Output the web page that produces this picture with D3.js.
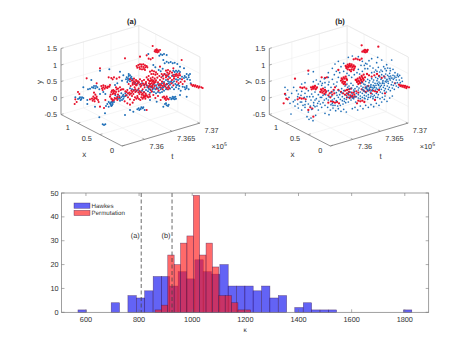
<!DOCTYPE html>
<html lang="en">
<head>
<meta charset="UTF-8">
<title>Hawkes vs permutation</title>
<script src="https://unpkg.com/d3@7.8.0/dist/d3.min.js"></script>
<style>
  body { margin: 0; background: #fff; }
  svg { opacity: 0.999; }
  text { font-family: "Liberation Sans", Arial, sans-serif; fill: #333; text-rendering: geometricPrecision; }
</style>
</head>
<body>
<script>
// histogram values
const hawkesEdges = [570, 695, 727, 758, 790, 821, 853, 884, 915, 947, 978, 1010, 1041, 1072, 1104, 1135, 1167, 1198, 1229, 1261, 1292, 1324, 1386, 1418, 1449, 1481, 1512, 1795];
const hawkesCounts = [1, 4, 0, 7, 6, 9, 15, 15, 11, 17, 14, 22, 17, 16, 20, 11, 11, 11, 9, 11, 6, 7, 2, 4, 1, 1, 1, 1];
const permEdges = [860, 884, 908, 932, 956, 980, 1004, 1028, 1052, 1076, 1100, 1124, 1148, 1172, 1196];
const permCounts = [1, 3, 24, 20, 29, 32, 49, 24, 29, 19, 7, 7, 4, 1, 1];
const hawkesWidth = 31.4;
const permWidth = 24;
const kappaMarks = [{ name: '(a)', value: 808 }, { name: '(b)', value: 924 }];
const kappaTicks = [600, 800, 1000, 1200, 1400, 1600, 1800];
const countTicks = [0, 10, 20, 30, 40, 50];

const tTicks = [7.36, 7.365, 7.37];
const xTicks = [0, 0.5, 1];
const yTicks = [-0.5, 0, 0.5, 1, 1.5];

// the 3D clouds: depth can't be recovered from a flat picture, so these are
// positions read in the view plane [h, v], 0-630 across and 0-495 down the panel
const redA = [[376,150],[380,152],[384,151],[378,156],[382,157],[386,155],[374,154],[380,148],[368,138],[390,150],[320,198],[325,195],[330,193],[335,194],[340,193],[345,196],[350,198],[322,203],[328,202],[334,200],[340,201],[346,202],[330,207],[336,208],[342,207],[352,202],[345,210],[350,166],[356,176],[362,178],[368,174],[390,200],[360,215],[366,212],[372,214],[378,217],[364,222],[370,222],[376,224],[382,222],[408,212],[414,210],[420,214],[412,218],[418,220],[426,218],[484,254],[490,255],[496,256],[502,258],[508,260],[514,262],[488,258],[494,259],[500,261],[506,263],[518,264],
[300,238],[306,242],[312,236],[318,240],[324,244],[330,238],[336,243],[342,240],[348,246],[354,238],[360,243],[366,240],[372,246],[378,241],[384,247],[390,240],[396,245],[402,250],[350,232],[356,228],[362,235],[368,232],[374,236],[382,233],[388,228],[394,232],[400,236],[408,232],[414,238],[420,234],[426,240],[432,236],[438,228],[444,232],[450,226],[456,238],[440,245],[446,250],[452,246],[458,252],[464,244],[410,252],[416,258],[424,250],[430,256],
[296,252],[302,258],[308,254],[314,262],[320,256],[326,266],[332,260],[338,268],[344,262],[350,256],[356,262],[362,270],[368,264],[374,258],[380,266],[386,272],[392,262],[398,268],[280,268],[286,274],[292,270],[298,278],[304,272],[310,282],[316,276],[322,288],[328,282],[334,292],[340,286],[346,296],[352,290],[358,284],[288,286],[294,292],[300,298],[306,288],[312,300],[284,304],[292,310],[300,314],[308,308],[398,292],[404,296],[410,290],[416,298],[392,300],[384,288],[370,285],[376,294],
[236,232],[244,234],[252,232],[260,236],[248,238],[268,232],[214,258],[220,262],[226,258],[232,264],[238,260],[216,265],[258,262],[264,266],[270,262],[276,268],[250,270],[244,276],[252,280],[258,276],[264,284],[240,290],[246,298],[254,294],[262,300],[268,292],[186,296],[192,298],[198,295],[204,300],[180,298],[196,284],[200,290],[192,278],[206,306],[144,276],[148,282],[136,298],[140,306],[134,312],[226,300],[210,320],[222,324],[350,330],[285,175],[210,205],[170,235],[200,250],[330,170],[430,205],[455,180],[365,275],[240,255],
[355,240],[359,244],[363,241],[367,245],[371,242],[357,250],[361,252],[365,250],[369,253],[373,249],[377,246],[358,258],[363,260],[368,258],[312,244],[316,247],[320,243],[308,249],[313,252],[318,255],[323,251],[327,247],[331,252],[335,256],[339,251],[343,254],[347,250],[290,276],[294,280],[299,284],[303,281],[307,276],[311,272],[316,268],[320,272],[325,277],[329,273],[333,277],[338,281],[342,277],[347,281],[315,292],[319,296],[323,293],[327,297],[331,300],[338,296],[343,290],[346,286],[428,226],[432,230],[436,224],[440,222],[444,226],[448,221],[395,222],[399,226],[403,222],[407,226],[411,228],[415,224],[386,256],[390,252],[394,255],[398,258],[402,255],[406,260],[410,264],[414,268],[418,264],[246,272],[250,276],[254,273],[248,282],[242,284],[256,282],[260,268],[266,274],[272,270],[220,256],[224,266],[228,262],[234,260],[218,270],[190,290],[194,294],[200,296],[188,302],[194,304],[244,296],[248,302],[252,300],[258,296],[262,292],[402,290],[406,294],[412,296],[408,300],[335,284],[340,292],[345,290],[350,286],[355,292],[360,290]];
const blueA = [[392,163],[397,165],[402,162],[388,167],[410,185],[416,188],[422,186],[428,190],[434,188],[404,190],[442,192],[450,200],[470,222],[476,226],[464,228],[480,240],[458,260],[464,262],[470,258],[476,268],[482,250],[452,272],[446,266],
[288,238],[294,240],[300,244],[306,236],[292,246],[312,248],[318,252],[324,248],[330,254],[336,250],[342,256],[348,252],[354,258],[360,254],[366,258],[372,252],[378,256],[384,252],[390,256],[396,250],[402,246],[408,240],[414,244],[420,246],[426,228],[432,224],[438,238],[444,240],[450,236],[456,230],[462,234],[398,228],[404,222],[410,226],[416,230],[386,210],[392,214],[398,206],[376,202],[370,195],[300,265],[306,268],[312,270],[318,274],[324,270],[330,276],[336,272],[342,276],[348,270],[354,274],[360,278],[366,274],[372,276],[378,280],[384,276],[390,278],[396,276],[402,272],[408,268],[414,262],[420,266],[426,262],[432,268],[438,262],
[274,280],[280,284],[286,280],[268,288],[262,290],[256,286],[274,292],[280,296],[270,302],[420,293],[426,295],[432,292],[438,296],[424,298],[405,312],[410,316],[416,314],[400,320],[326,325],[332,327],[338,325],[322,328],[344,330],[236,306],[242,310],[248,312],[232,312],[252,306],[228,318],[236,320],[244,318],[190,263],[196,265],[202,262],[180,266],[174,268],[208,268],[148,295],[154,297],[160,294],[144,297],[238,208],[210,212],[184,240],[160,262],[136,292],[172,300],[210,282],[220,276],[226,282],[255,255],[262,250],[276,242],[280,226],[296,222],[270,215],[300,330],[310,335],[285,345],[218,373],[222,375],[226,373],[208,352],[225,340],[195,320],[172,312],[380,305],[360,300],[450,285],[470,290],[400,180],[355,162],[410,165],[462,205],[480,222],
[290,232],[294,235],[298,238],[302,234],[296,228],[300,226],[304,230],[308,240],[352,262],[356,266],[360,268],[364,262],[368,268],[372,264],[376,268],[380,262],[384,266],[388,262],[392,268],[396,264],[400,262],[404,258],[408,254],[412,252],[416,250],[420,254],[424,244],[428,248],[432,244],[436,252],[440,256],[444,254],[448,258],[430,212],[434,216],[438,212],[442,216],[446,212],[450,216],[240,310],[244,306],[248,306],[242,314],[246,316],[328,330],[334,322],[340,322],[430,296],[434,298],[428,290],[436,290],[414,318],[408,310],[150,292],[156,292],[152,300],[278,288],[282,290],[286,288],[290,286],[270,296],[276,300],[264,296],[198,258],[192,258],[186,262],[476,232],[472,238],[468,232],[466,268],[470,264]];
const redB = [[356,152],[360,150],[364,152],[358,156],[362,157],[366,155],[352,155],[368,150],[350,136],[400,140],[302,198],[308,194],[314,192],[320,193],[326,196],[330,200],[304,204],[310,202],[316,200],[322,202],[328,205],[308,208],[314,210],[320,208],[326,210],[318,214],[326,178],[332,176],[338,178],[344,180],[350,176],[290,235],[296,232],[302,230],[288,242],[294,244],[300,246],[306,240],[296,252],[302,254],[332,240],[338,236],[344,232],[350,228],[356,224],[336,246],[342,244],[348,240],[354,236],[360,232],[340,252],[346,250],[352,246],[366,222],[372,226],[380,230],[388,226],[396,222],[402,228],[410,234],[418,230],[462,254],[468,256],[474,257],[480,258],[486,260],[492,262],[466,258],[472,260],[478,262],[484,264],[450,250],
[198,262],[204,260],[210,258],[216,262],[200,268],[206,266],[212,268],[166,262],[172,264],[178,262],[184,266],[228,268],[234,266],[240,270],[226,276],[232,278],[238,282],[244,274],[250,286],[256,292],[262,284],[268,280],[258,304],[264,306],[270,308],[276,306],[282,310],[250,308],[310,284],[316,286],[322,288],[328,284],[306,292],[314,294],[300,272],[306,270],[312,268],[318,266],[384,272],[390,274],[396,276],[402,270],[378,280],[340,302],[346,304],[352,302],[358,306],[336,310],[164,294],[170,296],[176,295],[182,298],[158,298],[120,282],[124,296],[128,298],[116,310],[196,322],[202,326],[190,330],[150,236],[190,212],[230,232],[240,234],[246,232],[280,210],[390,300],[420,280],[205,350],[270,262],[280,270],[350,268],[362,262],[370,258],
[312,198],[318,197],[324,199],[306,200],[334,240],[340,242],[346,236],[352,232],[344,248],[350,244],[356,240],[292,238],[298,236],[304,236],[292,248],[298,250],[204,264],[208,262],[214,265],[230,272],[236,274],[242,278],[288,276],[294,280],[300,284],[306,280],[312,276],[320,278],[326,278],[334,274],[340,278],[356,272],[362,276],[368,272],[374,270],[266,270],[260,276],[254,280],[318,290],[324,292],[330,290]];
const blueB = [[120,262],[128,270],[122,285],[132,292],[140,280],[150,300],[158,312],[166,306],[174,316],[182,304],[190,312],[198,300],[206,308],[214,296],[222,304],[230,292],[238,300],[150,318],[160,324],[170,330],[180,322],[190,336],[200,328],[210,320],[220,330],[230,322],[240,316],[138,342],[186,350],[192,358],[198,354],[204,362],[212,346],[248,322],[256,330],[264,324],[272,332],[280,326],[288,334],[296,328],[304,336],[240,340],[252,344],[322,326],[330,322],[338,330],[346,318],[354,326],[362,316],[370,322],[378,314],[386,320],[394,310],[402,316],[410,306],[418,298],[426,304],[434,294],[442,288],
[160,282],[170,274],[180,280],[190,272],[200,282],[210,276],[220,284],[230,256],[240,262],[250,254],[258,262],[266,252],[274,258],[214,240],[226,244],[238,236],[250,232],[190,222],[205,215],[262,205],[270,192],[280,184],[288,200],[296,190],[250,218],[268,224],[280,232],[276,246],[310,172],[322,168],[340,170],[352,184],[362,190],[372,182],[380,176],[395,188],[410,180],[425,194],[435,205],[440,180],[450,218],[458,222],[464,226],[470,234],[398,172],[375,198],[368,206],[384,204],[392,210],[400,202],[408,210],[416,200],[424,212],
[262,300],[268,296],[274,302],[280,292],[286,298],[292,290],[298,296],[304,286],[310,280],[316,276],[322,282],[328,274],[334,280],[340,270],[346,276],[352,268],[358,274],[364,266],[370,272],[376,262],[382,268],[388,258],[394,264],[400,254],[406,260],[412,250],[418,256],[424,246],[430,250],[436,240],[442,246],[448,234],[454,240],[460,230],[330,266],[336,260],[342,264],[348,258],[354,262],[360,254],[366,258],[372,248],[378,254],[384,246],[390,250],[396,242],[402,246],[408,238],[414,242],[420,234],[426,238],[432,230],[438,234],[444,226],[350,248],[356,252],[362,244],[368,238],[374,242],[380,236],[386,240],[392,232],[398,236],[404,230],[410,224],[416,228],[422,222],[428,226],[434,220],[340,284],[346,288],[352,280],[358,286],[364,278],[370,284],[376,276],[382,282],[388,286],[394,280],[400,284],[406,276],[412,280],[418,272],[424,276],[430,268],[436,272],[442,264],[448,268],[454,258],[460,262],[466,248],[472,244],[300,258],[306,252],[312,258],[318,250],[324,256],[312,226],[320,232],[328,224],[336,218],[344,222],[352,214],[360,206],
[250,272],[258,278],[266,272],[274,278],[282,272],[290,266],[244,296],[252,290],[260,288],[270,316],[278,318],[286,316],[294,312],[302,308],[310,306],[318,300],[326,296],[332,306],[360,296],[368,298],[376,292],[384,296],[405,296],[412,292],[420,288],[180,248],[170,252],[205,245],[146,262],[155,272],[135,310],[145,305],
[365,262],[369,258],[373,264],[377,258],[381,262],[385,256],[389,262],[393,256],[397,250],[401,256],[405,250],[409,256],[413,246],[417,250],[421,244],[425,240],[429,244],[433,236],[437,228],[441,234],[445,238],[449,228],[453,232],[457,226],[355,270],[361,264],[367,268],[373,268],[379,272],[385,264],[391,270],[397,268],[403,264],[409,268],[415,262],[421,266],[427,258],[433,262],[439,254],[445,256],[451,250],[457,248],[463,240],[292,302],[298,304],[304,298],[310,292],[316,290],[322,294],[328,290],[334,290],[340,294],[346,296],[352,292],[358,294],[364,288],[370,292],[378,288],[384,290],[392,292],[398,292],[326,270],[320,264],[314,266],[308,262],[226,292],[234,286],[242,284],[210,300],[218,310],[226,312],[234,308],[158,290],[168,286],[178,292],[186,290],[194,290],[204,290],[170,306],[180,314],[196,318],[206,316],[216,318],[258,314],[264,316],[250,300],[262,310],[276,286],[284,284],[290,278],[296,272],[380,218],[388,216],[396,214],[404,216],[412,214],[420,206],[428,204],[436,212],[444,208],[340,208],[348,196],[358,196],[366,192],[274,214],[284,218],[296,214],[306,220],[252,246],[262,238],[240,248],[232,250],[220,252]];

const panels = [
  { title: '(a)', dx: 0, hOffset: 30, red: redA, blue: blueA, blueOnTop: false },
  { title: '(b)', dx: 208.3, hOffset: 245 - 208.3, red: redB, blue: blueB, blueOnTop: true }
];

const svg = d3.select('body').append('svg').attr('width', 474).attr('height', 351);

// 3D box, oblique view: front corner, one step along t, x and y
const tScale = d3.scaleLinear().domain([7.3559, 7.3701]).range([0, 1]);
const xScale3 = d3.scaleLinear().domain([0, 1.38]).range([0, 1]);
const yScale3 = d3.scaleLinear().domain([-0.5, 1.5]).range([0, 1]);
const front = [122, 146], tStep = [78, -23], xStep = [-61, -31.5], yStep = [0, -66];

function project(t, x, y) {
  const a = tScale(t), b = xScale3(x), c = yScale3(y);
  return [
    front[0] + a * tStep[0] + b * xStep[0] + c * yStep[0],
    front[1] + a * tStep[1] + b * xStep[1] + c * yStep[1]
  ];
}

panels.forEach(drawPanel);
drawHistogram();

function drawPanel(p) {
  const g = svg.append('g').attr('transform', `translate(${p.dx},0)`);
  const [t0, t1] = tScale.domain();
  const [x0, x1] = xScale3.domain();
  const [y0, y1] = yScale3.domain();
  const seg = (a, b, stroke, w) => g.append('line')
    .attr('x1', a[0]).attr('y1', a[1]).attr('x2', b[0]).attr('y2', b[1])
    .attr('stroke', stroke).attr('stroke-width', w);
  const gridCol = '#efefef';

  // grid on floor and back walls
  tTicks.forEach(t => {
    seg(project(t, x0, y0), project(t, x1, y0), gridCol, 0.6);
    seg(project(t, x1, y0), project(t, x1, y1), gridCol, 0.6);
  });
  xTicks.forEach(x => {
    seg(project(t0, x, y0), project(t1, x, y0), gridCol, 0.6);
    seg(project(t1, x, y0), project(t1, x, y1), gridCol, 0.6);
  });
  yTicks.forEach(y => {
    seg(project(t0, x1, y), project(t1, x1, y), gridCol, 0.6);
    seg(project(t1, x1, y), project(t1, x0, y), gridCol, 0.6);
  });

  // back frame
  seg(project(t0, x1, y1), project(t1, x1, y1), '#e2e2e2', 0.6);
  seg(project(t1, x1, y1), project(t1, x0, y1), '#e2e2e2', 0.6);
  seg(project(t1, x1, y0), project(t1, x1, y1), '#e2e2e2', 0.6);
  seg(project(t1, x0, y0), project(t1, x0, y1), '#e2e2e2', 0.6);

  // drawn axes
  const axisCol = '#777';
  seg(project(t0, x0, y0), project(t1, x0, y0), axisCol, 0.8);
  seg(project(t0, x0, y0), project(t0, x1, y0), axisCol, 0.8);
  seg(project(t0, x1, y0), project(t0, x1, y1), axisCol, 0.8);

  yTicks.forEach(y => {
    const q = project(t0, x1, y);
    seg(q, [q[0] + 2.5, q[1] - 0.7], axisCol, 0.6);
    g.append('text').attr('x', q[0] - 4).attr('y', q[1] + 2.6)
      .attr('text-anchor', 'end').attr('font-size', 7.3).text(y);
  });
  xTicks.forEach(x => {
    const q = project(t0, x, y0);
    seg(q, [q[0] + 2.5, q[1] - 0.7], axisCol, 0.6);
    g.append('text').attr('x', q[0] - 8).attr('y', q[1] + 6.5)
      .attr('text-anchor', 'end').attr('font-size', 7.3).text(x);
  });
  tTicks.forEach(t => {
    const q = project(t, x0, y0);
    seg(q, [q[0] - 2, q[1] - 1], axisCol, 0.6);
    g.append('text').attr('x', q[0] + 5).attr('y', q[1] + 9.5)
      .attr('font-size', 7.3).text(t);
  });

  g.append('text').attr('x', 84.3).attr('y', 157).attr('text-anchor', 'middle').attr('font-size', 8).text('x');
  g.append('text').attr('x', 172.3).attr('y', 159).attr('text-anchor', 'middle').attr('font-size', 8).text('t');
  g.append('text').attr('transform', 'translate(41.5,82) rotate(-90)').attr('text-anchor', 'middle').attr('font-size', 8).text('y');
  const mult = g.append('text').attr('x', 211.5).attr('y', 148.5).attr('font-size', 7.3);
  mult.append('tspan').text('\u00d710');
  mult.append('tspan').attr('font-size', 5).attr('dy', -3).text('5');
  g.append('text').attr('x', 131.7).attr('y', 23.5).attr('text-anchor', 'middle')
    .attr('font-size', 7.5).attr('font-weight', 'bold').attr('style', 'fill:#222').text(p.title);

  // point clouds, in page coordinates from the view plane
  const h = d3.scaleLinear().domain([0, 630]).range([p.hOffset, p.hOffset + 210]);
  const v = d3.scaleLinear().domain([0, 495]).range([0, 165]);
  const layers = p.blueOnTop
    ? [{ pts: p.red, col: '#e8102a', r: 1.15 }, { pts: p.blue, col: '#1f6fb8', r: 0.85 }]
    : [{ pts: p.blue, col: '#1f6fb8', r: 1.0 }, { pts: p.red, col: '#e8102a', r: 1.05 }];
  layers.forEach(l => {
    g.append('g').selectAll('circle').data(l.pts).join('circle')
      .attr('cx', d => h(d[0])).attr('cy', d => v(d[1]))
      .attr('r', l.r).attr('fill', l.col);
  });
}

function drawHistogram() {
  const margin = { left: 61.5, right: 474 - 428.7, top: 193, bottom: 351 - 312.3 };
  const innerwidth = 474 - margin.left - margin.right;
  const innerheight = 351 - margin.top - margin.bottom;
  const g = svg.append('g').attr('transform', `translate(${margin.left},${margin.top})`);

  const xScale = d3.scaleLinear().domain([508, 1890]).range([0, innerwidth]);
  const yScale = d3.scaleLinear().domain([0, 50]).range([innerheight, 0]);

  const bars = (edges, counts, width, col) => {
    g.append('g').selectAll('rect').data(edges).join('rect')
      .attr('x', d => xScale(d))
      .attr('width', d => xScale(d + width) - xScale(d))
      .attr('y', (d, i) => yScale(counts[i]))
      .attr('height', (d, i) => innerheight - yScale(counts[i]))
      .attr('fill', col)
      .attr('fill-opacity', 0.65)
      .attr('stroke', '#3a1a50')
      .attr('stroke-opacity', 0.7)
      .attr('stroke-width', 0.5);
  };
  bars(hawkesEdges, hawkesCounts, hawkesWidth, '#1010f0');
  bars(permEdges, permCounts, permWidth, '#ff1a1a');

  // dashed markers
  kappaMarks.forEach(m => {
    g.append('line')
      .attr('x1', xScale(m.value)).attr('x2', xScale(m.value))
      .attr('y1', 0).attr('y2', innerheight)
      .attr('stroke', '#444').attr('stroke-width', 0.8).attr('stroke-dasharray', '4 2.5');
    g.append('text').attr('x', xScale(m.value) - 1.5).attr('y', yScale(32) + 2)
      .attr('text-anchor', 'end').attr('font-size', 7.3).text(m.name);
  });

  // box and ticks
  const axisCol = '#777';
  g.append('rect').attr('width', innerwidth).attr('height', innerheight)
    .attr('fill', 'none').attr('stroke', axisCol).attr('stroke-width', 0.7);
  const tick = (x1, y1, x2, y2) => g.append('line')
    .attr('x1', x1).attr('y1', y1).attr('x2', x2).attr('y2', y2)
    .attr('stroke', axisCol).attr('stroke-width', 0.6);
  kappaTicks.forEach(k => {
    tick(xScale(k), innerheight, xScale(k), innerheight - 3);
    tick(xScale(k), 0, xScale(k), 3);
    g.append('text').attr('x', xScale(k)).attr('y', innerheight + 10)
      .attr('text-anchor', 'middle').attr('font-size', 7.3).text(k);
  });
  countTicks.forEach(c => {
    tick(0, yScale(c), 3, yScale(c));
    tick(innerwidth, yScale(c), innerwidth - 3, yScale(c));
    g.append('text').attr('x', -3).attr('y', yScale(c) + 2.6)
      .attr('text-anchor', 'end').attr('font-size', 7.3).text(c);
  });
  g.append('text').attr('x', 245 - margin.left).attr('y', 332 - margin.top)
    .attr('text-anchor', 'middle').attr('font-size', 6.5).text('\u03ba');

  // legend
  const legend = [{ name: 'Hawkes', col: '#1010f0' }, { name: 'Permutation', col: '#ff1a1a' }];
  legend.forEach((l, i) => {
    const ly = 203 - margin.top + i * 7.3;
    g.append('rect').attr('x', 74 - margin.left).attr('y', ly).attr('width', 16).attr('height', 5.3)
      .attr('fill', l.col).attr('fill-opacity', 0.65).attr('stroke', '#3a1a50').attr('stroke-opacity', 0.7).attr('stroke-width', 0.5);
    g.append('text').attr('x', 91.5 - margin.left).attr('y', ly + 4.7).attr('font-size', 6.2).text(l.name);
  });
}
</script>
</body>
</html>
